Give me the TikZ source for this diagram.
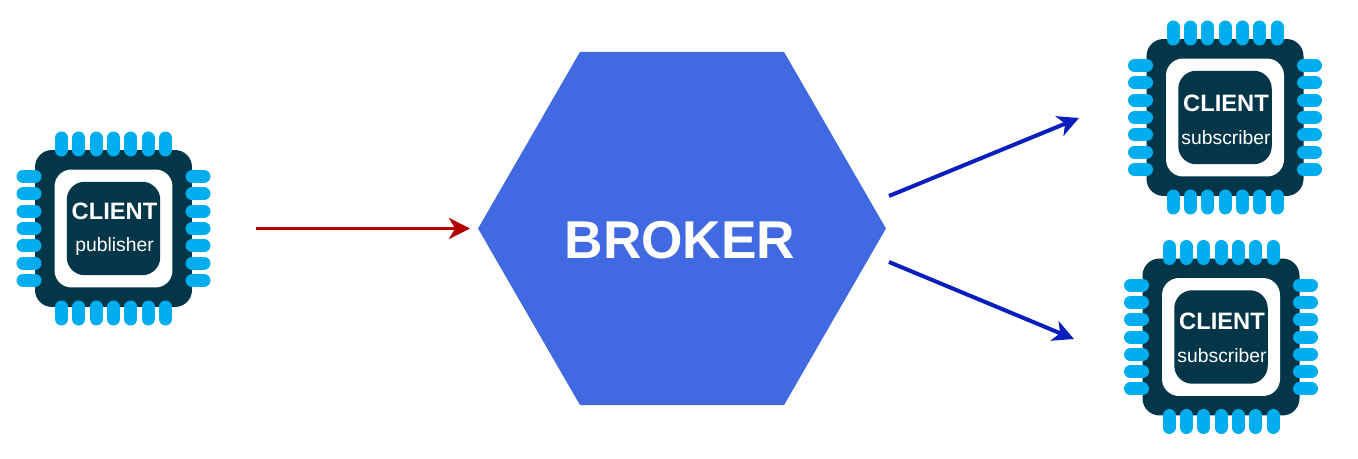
\documentclass[tikz,border=0pt]{standalone}
\usepackage{fontspec}
\setmainfont{Liberation Sans}
\usetikzlibrary{arrows.meta,shapes.geometric}
\definecolor{chipdark}{HTML}{033649}
\definecolor{chippin}{HTML}{00AEEF}
\definecolor{brokerblue}{HTML}{4169E1}
\definecolor{pubred}{HTML}{B00000}
\definecolor{subblue}{HTML}{0A1EBE}
\tikzset{
	chipbody/.style={fill=chipdark, rounded corners=0.34cm, minimum size=3.14cm, inner sep=0, outer sep=0},
	chipwindow/.style={fill=white, rounded corners=0.34cm, minimum size=2.36cm, inner sep=0, outer sep=0},
	chipcore/.style={fill=chipdark, rounded corners=0.36cm, minimum size=1.87cm, inner sep=0, outer sep=0},
	chippins/.style={line width=0.26cm, line cap=round, color=chippin},
	chiptitle/.style={anchor=base, text=white, font=\fontsize{13.5}{16}\selectfont\bfseries},
	chiprole/.style={anchor=base, text=white, font=\fontsize{11}{13}\selectfont},
	flow/.style={line width=0.08cm, -{Stealth[length=0.42cm, width=0.42cm, inset=0.12cm]}},
}
\def\chip(#1)(#2)(#3)(#4){
	\begin{scope}[shift={(#2)}]
		\node[chipbody] (#1) at (0, 0) {};
		\foreach \p in {-3,...,3} {
			\draw[chippins] (\p*17.33, -90.5) -- (\p*17.33, -78.5);
			\draw[chippins] (\p*17.33, 90.5) -- (\p*17.33, 78.5);
			\draw[chippins] (-90.5, \p*17.33) -- (-78.5, \p*17.33);
			\draw[chippins] (90.5, \p*17.33) -- (78.5, \p*17.33);
		}
		\node[chipwindow] (#1window) at (0, 0) {};
		\node[chipcore] (#1core) at (0, 0) {};
		\node[chiptitle] (#1title) at (1, #4-10) {CLIENT};
		\node[chiprole] (#1role) at (1, #4+23) {#3};
	\end{scope}
}

\begin{document}
\begin{tikzpicture}[x=0.02cm, y=-0.02cm]
		%%%%% START %%%%%
		\useasboundingbox (0, 0) rectangle (1358, 459);
		
		\chip(publisher)(113.5, 228.5)(publisher)(0.5);
		\chip(subscribertop)(1225, 117.5)(subscriber)(4);
		\chip(subscriberbottom)(1221, 337)(subscriber)(2.5);
		
		\node[regular polygon, regular polygon sides=6, fill=brokerblue, minimum size=8.16cm, inner sep=0, outer sep=0] (broker) at (682, 228.5) {};
		\node[text=white, font=\fontsize{30.3}{36}\selectfont\bfseries, anchor=base] (brokername) at (680, 258) {BROKER};
		
		\coordinate (brokerout1) at (889, 196);
		\coordinate (brokerout2) at (889, 262);
		\coordinate (subscribertopin) at (1079, 118);
		\coordinate (subscriberbottomin) at (1074, 339);
		
		\draw[flow, color=pubred, shorten <=1.28cm, shorten >=0.16cm] (publisher.east) -- (broker.west);
		\draw[flow, color=subblue] (brokerout1) -- (subscribertopin);
		\draw[flow, color=subblue] (brokerout2) -- (subscriberbottomin);
		
		%%%%% END %%%%%
	\end{tikzpicture}
\end{document}
